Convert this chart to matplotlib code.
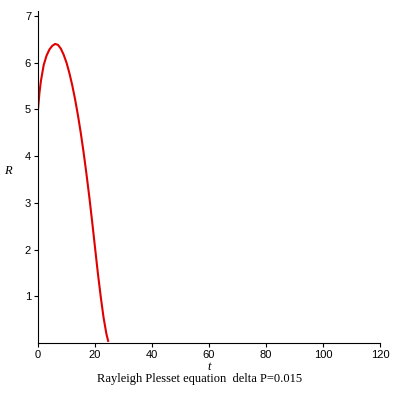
import matplotlib.pyplot as plt

# valores
tiempo = [0, 0.5, 1, 2, 3, 4, 5, 6, 7, 8, 9, 10, 11, 12, 13, 14, 15, 16, 17, 18, 19, 20, 21, 22, 23, 24, 24.6]
radio = [5.0, 5.35, 5.6, 5.95, 6.15, 6.28, 6.36, 6.4, 6.38, 6.3, 6.17, 6.0, 5.78, 5.52, 5.22, 4.88, 4.5, 4.08, 3.62, 3.13, 2.6, 2.05, 1.5, 1.0, 0.55, 0.2, 0.05]

fig = plt.figure(figsize=(4, 4), dpi=100)
ax = fig.add_axes([0.095, 0.142, 0.855, 0.83])
ax.plot(tiempo, radio, color="#e00000", linewidth=1.5)
ax.set_xlim(0, 120)
ax.set_ylim(0, 7.1)
ax.set_xticks(range(0, 121, 20))
ax.set_yticks(range(1, 8))
ax.spines["top"].set_visible(False)
ax.spines["right"].set_visible(False)
ax.tick_params(labelsize=8, length=3, pad=2)
for lbl in ax.get_xticklabels() + ax.get_yticklabels():
    lbl.set_fontfamily("Liberation Sans")
ax.xaxis.set_label_coords(0.5, -0.055)
ax.set_xlabel("t", fontsize=9, fontstyle="italic", family="Liberation Serif")
ax.set_ylabel("R", fontsize=9, fontstyle="italic", family="Liberation Serif", rotation=0, labelpad=12)
fig.text(0.5, 0.045, "Rayleigh Plesset equation  delta P=0.015", ha="center",
         fontsize=9, family="Liberation Serif")
fig.savefig("out.png")
